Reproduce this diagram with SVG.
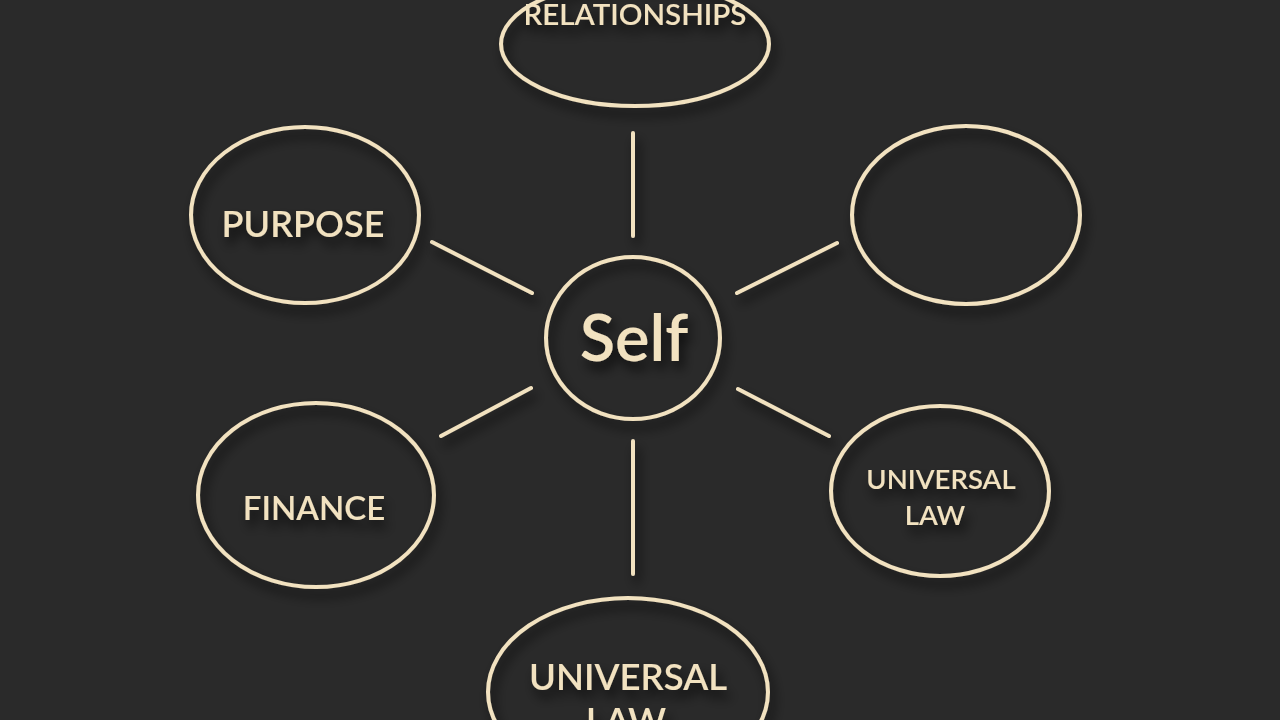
<svg xmlns="http://www.w3.org/2000/svg" width="1280" height="720" viewBox="0 0 1280 720">
<defs>
<filter id="sh" x="-20%" y="-20%" width="150%" height="150%">
<feDropShadow dx="4" dy="8" stdDeviation="6" flood-color="#000" flood-opacity="0.75"/>
</filter>
<style>
.n{fill:none;stroke:#f2e2c0;stroke-width:4;}
.c{stroke:#f2e2c0;stroke-width:4;stroke-linecap:round;}
.t{fill:#f2e2c0;font-family:Lato,"Open Sans","Liberation Sans",sans-serif;font-weight:600;text-anchor:middle;}
</style>
</defs>
<rect width="1280" height="720" fill="#2a2a2a"/>
<g id="connectors" filter="url(#sh)">
<line class="c" x1="633" y1="133" x2="633" y2="236"/>
<line class="c" x1="432" y1="242" x2="532" y2="293"/>
<line class="c" x1="737" y1="293" x2="837" y2="243"/>
<line class="c" x1="441" y1="436" x2="531" y2="388"/>
<line class="c" x1="738" y1="389" x2="829" y2="436"/>
<line class="c" x1="633" y1="441" x2="633" y2="574"/>
</g>
<g id="relationships" filter="url(#sh)">
<ellipse class="n" cx="635" cy="44" rx="134" ry="62"/>
<text class="t" x="635" y="25" font-size="29.5">RELATIONSHIPS</text>
</g>
<g id="purpose" filter="url(#sh)">
<ellipse class="n" cx="305" cy="215" rx="114" ry="88"/>
<text class="t" x="303" y="237" font-size="36">PURPOSE</text>
</g>
<g id="empty" filter="url(#sh)">
<ellipse class="n" cx="966" cy="215" rx="114" ry="89"/>
</g>
<g id="self" filter="url(#sh)">
<ellipse class="n" cx="633" cy="338" rx="87" ry="81"/>
<text class="t" x="634" y="361" font-size="65" font-weight="700">Self</text>
</g>
<g id="finance" filter="url(#sh)">
<ellipse class="n" cx="316" cy="495" rx="118" ry="92"/>
<text class="t" x="314" y="520" font-size="33">FINANCE</text>
</g>
<g id="universal-law-right" filter="url(#sh)">
<ellipse class="n" cx="940" cy="491" rx="109" ry="85"/>
<text class="t" x="941" y="489" font-size="27.5">UNIVERSAL</text>
<text class="t" x="935" y="525" font-size="27.5">LAW</text>
</g>
<g id="universal-law-bottom" filter="url(#sh)">
<ellipse class="n" cx="628" cy="692" rx="140" ry="94"/>
<text class="t" x="628" y="690" font-size="36.5">UNIVERSAL</text>
<text class="t" x="626" y="734" font-size="36.5">LAW</text>
</g>
</svg>
